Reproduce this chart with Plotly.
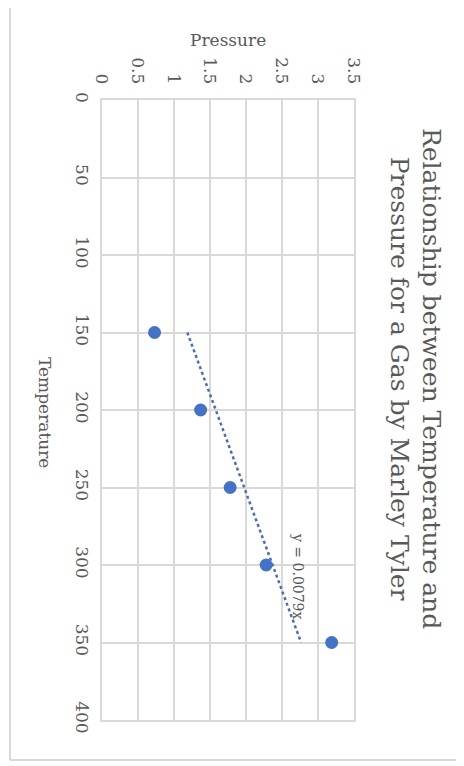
import plotly.graph_objects as go

# data
temperature = [150, 200, 250, 300, 350]
pressure = [0.73, 1.37, 1.78, 2.28, 3.19]
slope = 0.0079
trend_temp = [150, 350]
trend_pressure = [slope * t for t in trend_temp]

# page body has an 8px margin, so the figure is drawn 8px in from the corner
OFF = 8
W, H = 464 - OFF, 766 - OFF
L, R, T, B = 102 - OFF, 110, 100 - OFF, 46
grey_text = "#595959"
grid = "#d9d9d9"
font = "DejaVu Serif"


# helpers to place things by screen pixel
def px(x):
    return (x - OFF - L) / (W - L - R)


def py(y):
    return (H - B - (y - OFF)) / (H - T - B)


def label(text, x, y, size, angle=0):
    fig.add_annotation(text=text, x=px(x), y=py(y), xref="paper", yref="paper",
                       xanchor="center", yanchor="middle", showarrow=False,
                       textangle=angle, font=dict(family=font, size=size, color=grey_text))


fig = go.Figure()

fig.add_trace(go.Scatter(x=trend_pressure, y=trend_temp, mode="lines",
                         line=dict(color="#4a6fa8", width=2.5, dash="dot"),
                         showlegend=False, hoverinfo="skip"))
fig.add_trace(go.Scatter(x=pressure, y=temperature, mode="markers",
                         marker=dict(color="#4472C4", size=13),
                         showlegend=False))

fig.update_xaxes(range=[0, 3.5], dtick=0.5, side="top", tickangle=90,
                 showgrid=True, gridcolor=grid, gridwidth=1.5, zeroline=False,
                 showline=True, linecolor=grid, linewidth=1.5, mirror=True,
                 tickfont=dict(family=font, size=17, color=grey_text),
                 ticklabelstandoff=8)
fig.update_yaxes(range=[400, 0], dtick=50, tickangle=90,
                 showgrid=True, gridcolor=grid, gridwidth=1.5, zeroline=False,
                 showline=True, linecolor=grid, linewidth=1.5, mirror=True,
                 tickfont=dict(family=font, size=17, color=grey_text),
                 ticklabelstandoff=4)

label("Relationship between Temperature and<br>Pressure for a Gas by Marley Tyler",
      415, 378, 25, 90)
label("Pressure", 228, 40, 17)
label("Temperature", 45, 412, 17, 90)
label("y = 0.0079x", 298, 576, 14, 90)

# outer chart border (only left and bottom edges are in view)
fig.add_shape(type="line", xref="paper", yref="paper", x0=px(10), x1=px(10),
              y0=py(0), y1=py(760), line=dict(color=grid, width=2))
fig.add_shape(type="line", xref="paper", yref="paper", x0=px(10), x1=px(470),
              y0=py(760), y1=py(760), line=dict(color=grid, width=2))

fig.update_layout(width=W, height=H, margin=dict(l=L, r=R, t=T, b=B),
                  plot_bgcolor="white", paper_bgcolor="white")

fig.write_html("out.html")
